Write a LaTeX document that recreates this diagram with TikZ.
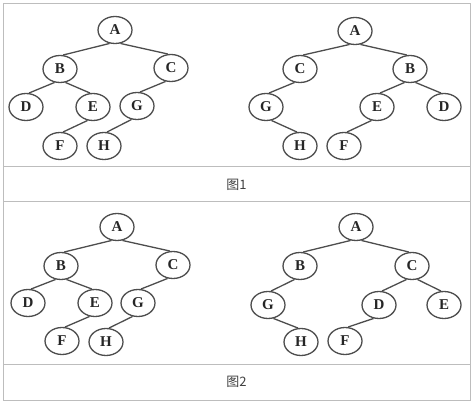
\documentclass[tikz,border=0pt]{standalone}
\usepackage{fontspec}
\usetikzlibrary{shapes.geometric}
\setmainfont{Liberation Serif}
\newfontfamily\cjk{Noto Sans CJK SC}
\definecolor{frame}{HTML}{BDBDBD}
\definecolor{edge}{HTML}{4D4D4D}
\begin{document}
\begin{tikzpicture}[x=1pt,y=-1pt,
  nd/.style={ellipse,draw=edge,line width=1.3pt,minimum width=34pt,minimum height=27pt,inner sep=0pt,font=\fontsize{15}{15}\selectfont\bfseries,text=black!85},
  ln/.style={draw=edge,line width=1.3pt},
  captxt/.style={font=\cjk\fontsize{13}{13}\selectfont,text=black!75}]
\useasboundingbox (0,0) rectangle (474,406);
\newcommand\lk[2]{\draw[ln] (#1.-112) -- (#2.78);}
\newcommand\rk[2]{\draw[ln] (#1.-68) -- (#2.102);}
% table frame
\draw[frame,line width=1pt] (3,4) rectangle (470,400);
\draw[frame,line width=1pt] (3,167) -- (470,167);
\draw[frame,line width=1pt] (3,202) -- (470,202);
\draw[frame,line width=1pt] (3,364) -- (470,364);
% Panel 1 left
\node[nd] (a1) at (115,30) {A};
\node[nd] (b1) at (60,69) {B};
\node[nd] (c1) at (171,68) {C};
\node[nd] (d1) at (26,107) {D};
\node[nd] (e1) at (93,107) {E};
\node[nd] (g1) at (137,106) {G};
\node[nd] (f1) at (60,146) {F};
\node[nd] (h1) at (104,146) {H};
\lk{a1}{b1}\rk{a1}{c1}\lk{b1}{d1}\rk{b1}{e1}\lk{e1}{f1}\lk{c1}{g1}\lk{g1}{h1}
% Panel 1 right
\node[nd] (a2) at (355,31) {A};
\node[nd] (c2) at (300,69) {C};
\node[nd] (b2) at (410,69) {B};
\node[nd] (g2) at (266,107) {G};
\node[nd] (e2) at (377,107) {E};
\node[nd] (d2) at (444,107) {D};
\node[nd] (h2) at (300,146) {H};
\node[nd] (f2) at (344,146) {F};
\lk{a2}{c2}\rk{a2}{b2}\lk{c2}{g2}\rk{g2}{h2}\lk{b2}{e2}\rk{b2}{d2}\lk{e2}{f2}
\node[captxt] (cap1) at (236.5,185) {图1};
% Panel 2 left
\node[nd] (a3) at (117,227) {A};
\node[nd] (b3) at (61,266) {B};
\node[nd] (c3) at (173,265) {C};
\node[nd] (d3) at (28,303) {D};
\node[nd] (e3) at (95,303) {E};
\node[nd] (g3) at (138,303) {G};
\node[nd] (f3) at (62,341) {F};
\node[nd] (h3) at (106,342) {H};
\lk{a3}{b3}\rk{a3}{c3}\lk{b3}{d3}\rk{b3}{e3}\lk{e3}{f3}\lk{c3}{g3}\lk{g3}{h3}
% Panel 2 right
\node[nd] (a4) at (356,227) {A};
\node[nd] (b4) at (300,266) {B};
\node[nd] (c4) at (412,266) {C};
\node[nd] (g4) at (268,305) {G};
\node[nd] (d4) at (379,305) {D};
\node[nd] (e4) at (444,305) {E};
\node[nd] (h4) at (301,342) {H};
\node[nd] (f4) at (345,341) {F};
\lk{a4}{b4}\rk{a4}{c4}\lk{b4}{g4}\rk{g4}{h4}\lk{c4}{d4}\rk{c4}{e4}\lk{d4}{f4}
\node[captxt] (cap2) at (236.5,382) {图2};
\end{tikzpicture}
\end{document}
